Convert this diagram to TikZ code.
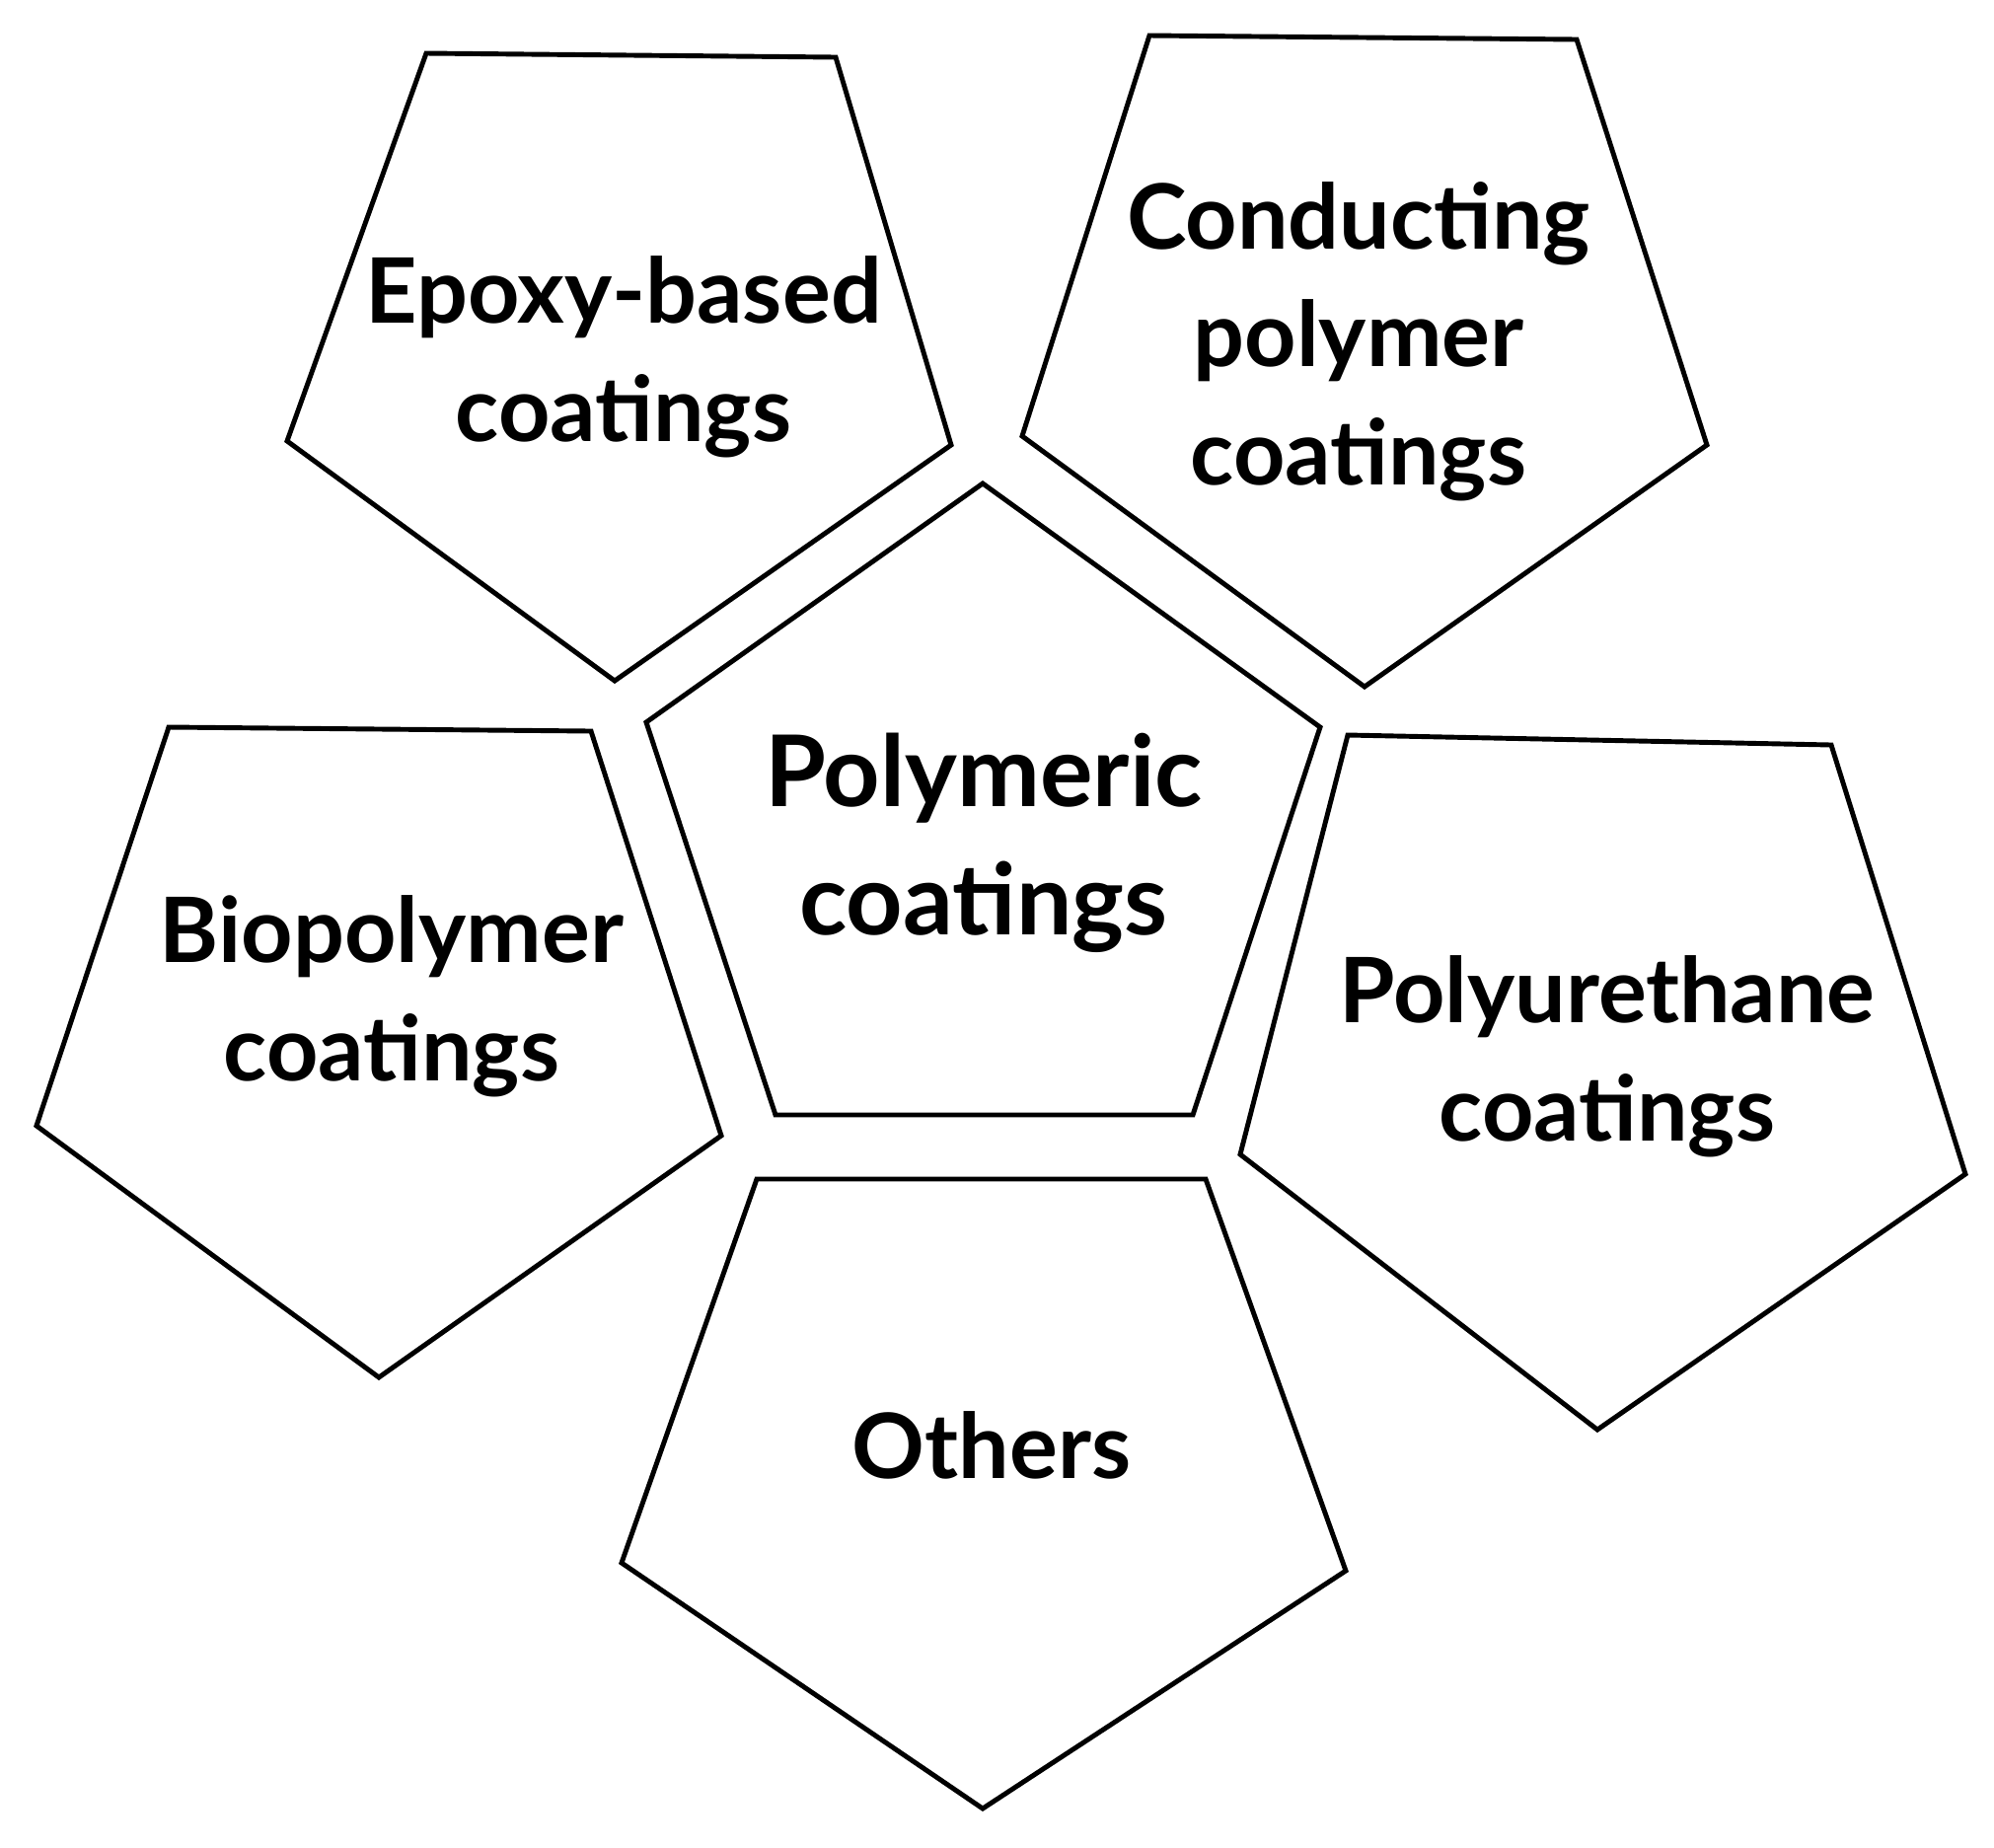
\documentclass[tikz,border=0pt]{standalone}
\usepackage{fontspec}
\setmainfont{Lato}
\usetikzlibrary{positioning}

\tikzset{
  pent/.style={draw=black, line width=1.4pt, line join=miter},
  txt/.style={align=center, font=\bfseries\fontsize{26}{34}\selectfont},
  bigtxt/.style={align=center, font=\bfseries\fontsize{28.5}{37}\selectfont}
}

\begin{document}
\begin{tikzpicture}[x=0.01cm, y=-0.01cm]
        \useasboundingbox (0,0) rectangle (2021,1872);

        % centre
        \draw[pent] (996,490) -- (1338,737) -- (1209,1130) -- (786,1130) -- (655,732) -- cycle;
        \node[bigtxt](POLY) at (997,854){Polymeric\\coatings};

        % top left
        \draw[pent] (432,54) -- (847,58) -- (964,451) -- (623,690) -- (291,447) -- cycle;
        \node[txt](EPOXY) at (632,362){Epoxy-based\\coatings};

        % top right
        \draw[pent] (1165,36) -- (1598,40) -- (1730,451) -- (1383,696) -- (1036,442) -- cycle;
        \node[txt](COND) at (1377,346){Conducting\\polymer\\coatings};

        % left
        \draw[pent] (171,737) -- (599,741) -- (731,1151) -- (384,1396) -- (37,1141) -- cycle;
        \node[txt](BIO) at (397,1010){Biopolymer\\coatings};

        % right
        \draw[pent] (1366,745) -- (1856,755) -- (1992,1190) -- (1619,1449) -- (1257,1170) -- cycle;
        \node[txt](PU) at (1629,1071){Polyurethane\\coatings};

        % bottom
        \draw[pent] (767,1195) -- (1222,1195) -- (1364,1592) -- (996,1833) -- (630,1584) -- cycle;
        \node[txt](OTHER) at (1005,1465){Others};
\end{tikzpicture}
\end{document}
